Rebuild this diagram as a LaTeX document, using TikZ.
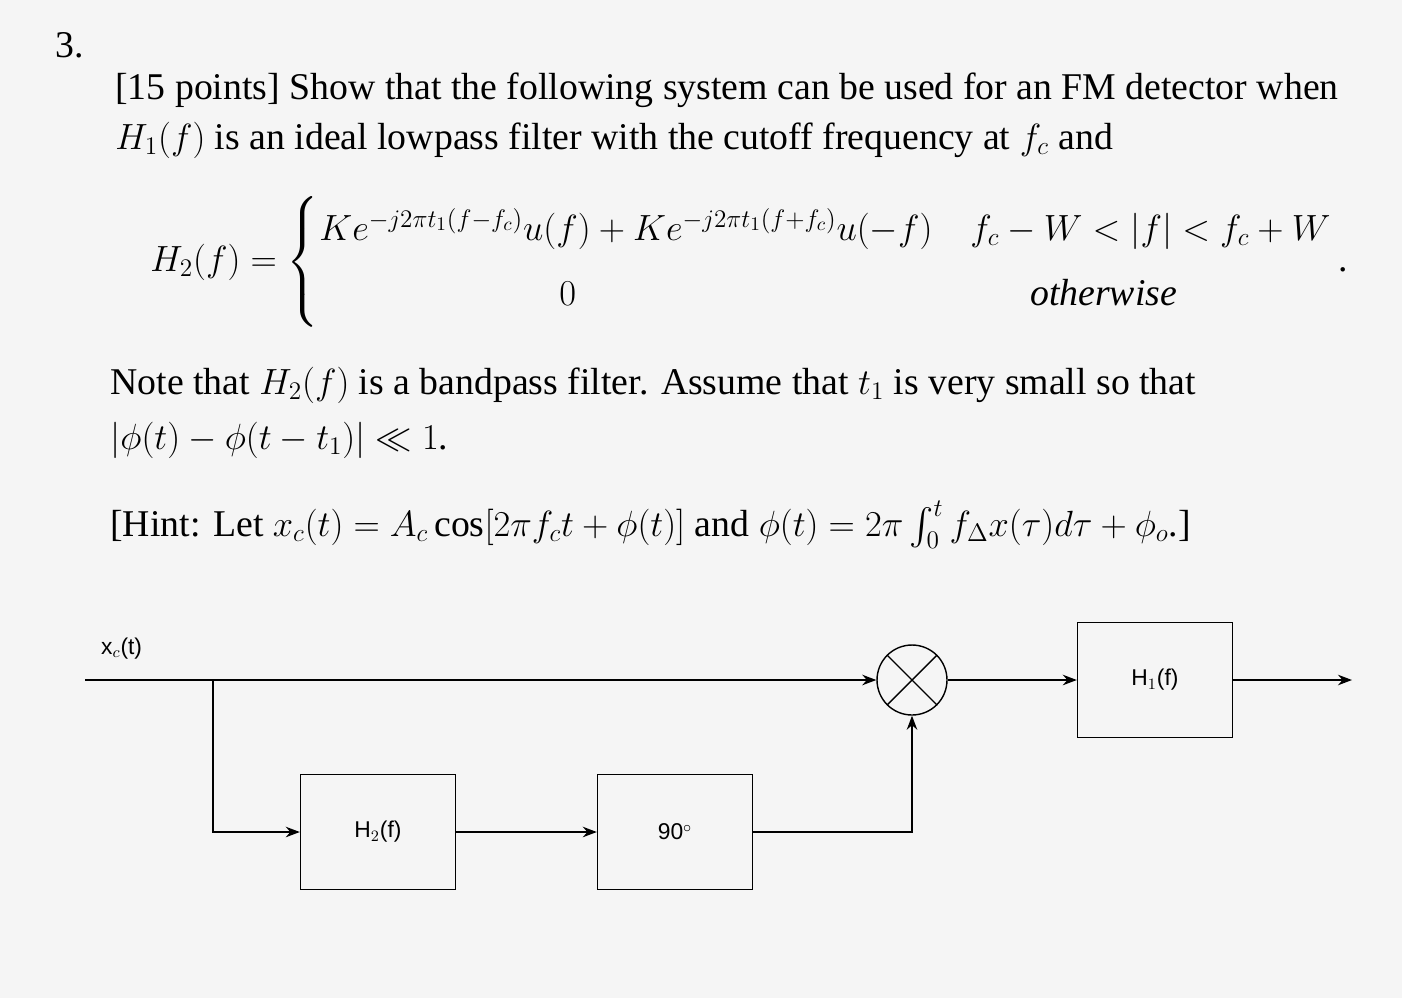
\documentclass[tikz,border=0pt]{standalone}
\usepackage{fontspec}
\usepackage{amsmath}
\setmainfont{Liberation Serif}
\newfontfamily\diag{Liberation Sans}
\usetikzlibrary{arrows.meta}
\begin{document}
\begin{tikzpicture}[x=0.02cm,y=-0.02cm,
  txt/.style={anchor=west,inner sep=0,font=\fontsize{21.5}{26}\selectfont},
  blk/.style={draw,line width=0.8pt,minimum width=3.1cm,minimum height=2.3cm,font=\diag\fontsize{13}{15}\selectfont},
  sig/.style={line width=0.8pt},
  arr/.style={sig,-{Stealth[length=8pt]}}]
\fill[gray!8] (0,0) rectangle (1402,998);
\useasboundingbox (0,0) rectangle (1402,998);
\node[txt] (n3) at (55,45) {3.};
\node[txt] (l1) at (115,90) {[15 points] Show that the following system can be used for an FM detector when};
\node[txt] (l2) at (115,140) {$H_1(f)$ is an ideal lowpass filter with the cutoff frequency at $f_c$ and};
\node[txt] (eq) at (150,262) {$H_2(f)=\begin{cases}Ke^{-j2\pi t_1(f-f_c)}u(f)+Ke^{-j2\pi t_1(f+f_c)}u(-f) & f_c-W<|f|<f_c+W\\[6pt] \hspace{4.8cm}0 & \hspace{1.2cm}\textit{otherwise}\end{cases}$\,.};
\node[txt] (l3) at (110,385) {Note that $H_2(f)$ is a bandpass filter. Assume that $t_1$ is very small so that};
\node[txt] (l4) at (110,440) {$|\phi(t)-\phi(t-t_1)|\ll 1$.};
\node[txt] (l5) at (110,525) {[Hint: Let $x_c(t)=A_c\cos[2\pi f_c t+\phi(t)]$ and $\phi(t)=2\pi\int_0^t f_\Delta x(\tau)d\tau+\phi_o$.]};

\coordinate (in) at (85,680);
\node[anchor=south west,font=\diag\fontsize{13}{15}\selectfont] (xl) at (95,665) {x$_c$(t)};
\node[draw,circle,line width=0.8pt,minimum size=1.4cm] (mix) at (912,680) {};
\draw[sig] (mix.north west)--(mix.south east) (mix.north east)--(mix.south west);
\node[blk] (h1) at (1155,680) {H$_1$(f)};
\node[blk] (h2) at (378,832) {H$_2$(f)};
\node[blk] (p90) at (675,832) {90$^\circ$};
\coordinate (br) at (213,680);
\coordinate (out) at (1352,680);
\draw[arr] (in)--(mix.west);
\draw[arr] (br)|-(h2.west);
\draw[arr] (h2)--(p90);
\draw[arr] (p90.east)-|(mix.south);
\draw[arr] (mix.east)--(h1.west);
\draw[arr] (h1.east)--(out);
\end{tikzpicture}
\end{document}
